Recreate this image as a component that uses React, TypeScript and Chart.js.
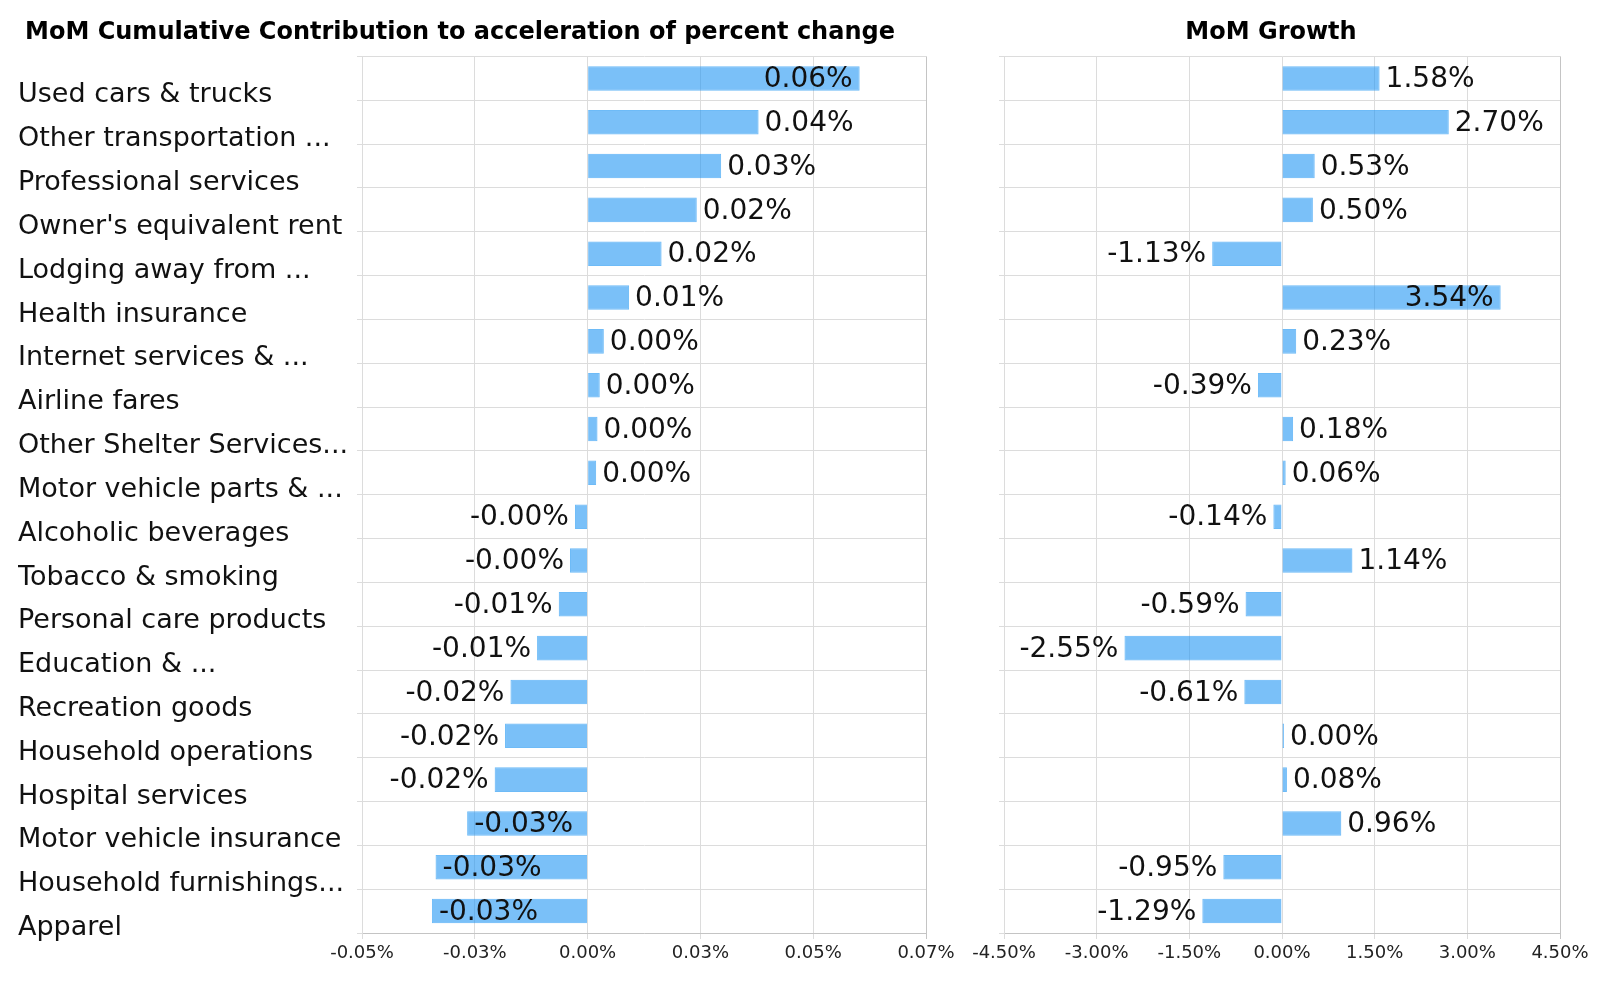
import React, { useEffect, useRef } from "react";
import { Chart, registerables } from "chart.js";

Chart.register(...registerables);

Chart.defaults.font.family = "'DejaVu Sans', Verdana, sans-serif";

const categories = [
  "Used cars & trucks",
  "Other transportation ...",
  "Professional services",
  "Owner's equivalent rent",
  "Lodging away from ...",
  "Health insurance",
  "Internet services & ...",
  "Airline fares",
  "Other Shelter Services...",
  "Motor vehicle parts & ...",
  "Alcoholic beverages",
  "Tobacco & smoking",
  "Personal care products",
  "Education & ...",
  "Recreation goods",
  "Household operations",
  "Hospital services",
  "Motor vehicle insurance",
  "Household furnishings...",
  "Apparel",
];

// contribution to acceleration, in percent
const contribution = [
  0.0603, 0.0379, 0.0296, 0.0242, 0.0164, 0.0092, 0.0036, 0.0027, 0.0022, 0.0019,
  -0.0028, -0.0039, -0.0064, -0.0112, -0.0171, -0.0183, -0.0206, -0.0267, -0.0337, -0.0345,
];

// month over month growth, in percent
const growth = [
  1.58, 2.7, 0.53, 0.5, -1.13, 3.54, 0.23, -0.39, 0.18, 0.06,
  -0.14, 1.14, -0.59, -2.55, -0.61, 0.003, 0.08, 0.96, -0.95, -1.29,
];

const contributionTicks = [-0.05, -0.025, 0, 0.025, 0.05, 0.075];
const growthTicks = [-4.5, -3, -1.5, 0, 1.5, 3, 4.5];

const CANVAS_H = 980;

// value labels: outside the bar end, or inside when there is no room
const valueLabels = {
  id: "valueLabels",
  afterDatasetsDraw(chart: any) {
    const { ctx, chartArea } = chart;
    const meta = chart.getDatasetMeta(0);
    const data = chart.data.datasets[0].data as number[];
    ctx.save();
    ctx.font = "28px 'DejaVu Sans', Verdana, sans-serif";
    ctx.fillStyle = "#111";
    ctx.textBaseline = "middle";
    meta.data.forEach((bar: any, i: number) => {
      const v = data[i];
      const text = v.toFixed(2) + "%";
      const w = ctx.measureText(text).width;
      const y = bar.y + 1.5;
      if (v >= 0) {
        const room = chartArea.right - bar.x;
        if (room < w + 12) {
          ctx.textAlign = "right";
          ctx.fillText(text, bar.x - 7, y);
        } else {
          ctx.textAlign = "left";
          ctx.fillText(text, bar.x + 6, y);
        }
      } else {
        const room = bar.x - chartArea.left;
        if (room < w + 12) {
          ctx.textAlign = "left";
          ctx.fillText(text, bar.x + 7, y);
        } else {
          ctx.textAlign = "right";
          ctx.fillText(text, bar.x - 6, y);
        }
      }
    });
    ctx.restore();
  },
};

const frameRight = {
  id: "frameRight",
  beforeDatasetsDraw(chart: any) {
    const { ctx, chartArea } = chart;
    ctx.save();
    ctx.strokeStyle = "#c4c4c4";
    ctx.lineWidth = 1;
    ctx.beginPath();
    ctx.moveTo(Math.round(chartArea.right) + 0.5, chartArea.top);
    ctx.lineTo(Math.round(chartArea.right) + 0.5, chartArea.bottom + 6);
    ctx.stroke();
    ctx.restore();
  },
};

// moves the title sideways after layout
const titleNudge = {
  id: "titleNudge",
  afterLayout(chart: any, _args: any, opts: any) {
    const t = chart.titleBlock;
    if (t && opts && opts.dx) {
      t.left += opts.dx;
      t.right += opts.dx;
    }
  },
};

interface PanelProps {
  title: string;
  values: number[];
  ticks: number[];
  showCategories: boolean;
  left: number;
  width: number;
  padLeft: number;
  padRight: number;
  axisWidth: number;
  titleShift: number;
}

function BarPanel(props: PanelProps) {
  const canvasRef = useRef<HTMLCanvasElement | null>(null);

  useEffect(() => {
    if (!canvasRef.current) return;
    const { values, ticks } = props;
    const chart = new Chart(canvasRef.current, {
      type: "bar",
      data: {
        labels: categories,
        datasets: [
          {
            data: values,
            backgroundColor: "rgba(33,150,243,0.6)",
            borderColor: "rgba(33,150,243,0.65)",
            borderWidth: 1,
            barPercentage: 0.7,
            categoryPercentage: 0.8,
            minBarLength: 2,
          },
        ],
      },
      options: {
        indexAxis: "y",
        animation: false,
        responsive: true,
        maintainAspectRatio: false,
        layout: {
          padding: { left: props.padLeft, right: props.padRight, top: 0, bottom: 0 },
        },
        plugins: {
          legend: { display: false },
          tooltip: { enabled: false },
          title: {
            display: true,
            text: props.title,
            color: "#000",
            font: { size: 24, weight: "bold" },
            padding: { top: 18, bottom: 9.7 },
          },
          titleNudge: { dx: props.titleShift },
        } as any,
        scales: {
          x: {
            min: ticks[0],
            max: ticks[ticks.length - 1],
            afterBuildTicks: (scale: any) => {
              scale.ticks = ticks.map((v) => ({ value: v }));
            },
            afterFit: (scale: any) => {
              scale.height = 47;
            },
            grid: { color: "#dcdcdc", tickLength: 6 },
            border: { color: "#c4c4c4" },
            ticks: {
              color: "#222",
              font: { size: 18 },
              padding: 4,
              maxRotation: 0,
              callback: (v: any) => Number(v).toFixed(2) + "%",
            },
          },
          y: {
            afterFit: (scale: any) => {
              scale.width = props.axisWidth;
            },
            grid: { color: "#dcdcdc", tickLength: 5 },
            border: { color: "#dcdcdc" },
            ticks: {
              display: props.showCategories,
              autoSkip: false,
              crossAlign: "far",
              labelOffset: 17,
              color: "#111",
              font: { size: 27 },
            },
          },
        },
      },
      plugins: [valueLabels, frameRight, titleNudge],
    });
    return () => {
      chart.destroy();
    };
  }, []);

  return (
    <div
      style={{
        position: "absolute",
        left: props.left,
        top: 0,
        width: props.width,
        height: CANVAS_H,
      }}
    >
      <canvas ref={canvasRef}></canvas>
    </div>
  );
}

export default function App() {
  return (
    <div>
      <BarPanel
        title="MoM Cumulative Contribution to acceleration of percent change"
        values={contribution}
        ticks={contributionTicks}
        showCategories={true}
        left={0}
        width={960}
        padLeft={18}
        padRight={34}
        axisWidth={344}
        titleShift={-12}
      />
      <BarPanel
        title="MoM Growth"
        values={growth}
        ticks={growthTicks}
        showCategories={false}
        left={960}
        width={640}
        padLeft={22}
        padRight={40}
        axisWidth={22}
        titleShift={0}
      />
    </div>
  );
}
